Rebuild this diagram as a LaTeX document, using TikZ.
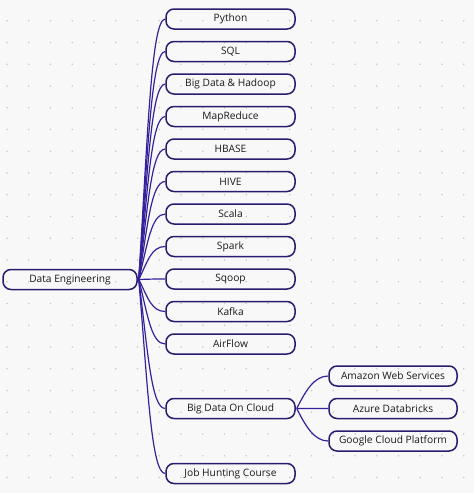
\documentclass[tikz,border=0pt]{standalone}
\usepackage{fontspec}
\setmainfont{Open Sans}
\usetikzlibrary{calc}
\definecolor{ink}{HTML}{2B1B6E}
\definecolor{linkc}{HTML}{33229A}
\definecolor{bg}{HTML}{F8F8F9}
\definecolor{dotc}{HTML}{C9C9CC}
\begin{document}
\begin{tikzpicture}[x=1pt,y=-1pt,
  topic/.style={draw=ink,line width=1.5pt,rounded corners=8pt,minimum width=129pt,minimum height=20pt,inner sep=0pt,font=\fontsize{10.2}{11}\selectfont,text=black!90},
  link/.style={draw=linkc,line width=1.2pt}]
\useasboundingbox (0,0) rectangle (474,493);
\fill[bg] (0,0) rectangle (474,493);
\foreach \i in {0,...,21}{
  \foreach \j in {0,...,22}{
    \fill[dotc] (7+21.75*\i,-1+21.75*\j) circle (0.9pt);
  }
}
\node[topic,minimum width=134pt] (root) at (70,279.5) {Data Engineering};
\node[topic] (n1) at (230.5,19) {Python};
\node[topic] (n2) at (230.5,51.5) {SQL};
\node[topic] (n3) at (230.5,84) {Big Data \& Hadoop};
\node[topic] (n4) at (230.5,116.5) {MapReduce};
\node[topic] (n5) at (230.5,149) {HBASE};
\node[topic] (n6) at (230.5,181.5) {HIVE};
\node[topic] (n7) at (230.5,214) {Scala};
\node[topic] (n8) at (230.5,246.5) {Spark};
\node[topic] (n9) at (230.5,279) {Sqoop};
\node[topic] (n10) at (230.5,311.5) {Kafka};
\node[topic] (n11) at (230.5,344) {AirFlow};
\node[topic] (n12) at (230.5,408.5) {Big Data On Cloud};
\node[topic] (n13) at (230.5,473.5) {Job Hunting Course};
\node[topic,minimum width=128pt] (c1) at (393,376) {Amazon Web Services};
\node[topic,minimum width=128pt] (c2) at (393,408.5) {Azure Databricks};
\node[topic,minimum width=128pt] (c3) at (393,441) {Google Cloud Platform};
\coordinate (rs) at ([xshift=1pt]root.east);
\foreach \n in {n1,n2,n3,n4,n5,n6,n7,n8,n9,n10,n11,n12,n13}{
  \path (\n.west) coordinate (t);
  \draw[link] (rs) .. controls ($(rs)!0.55!(rs |- t)+(9,0)$) and ([xshift=-14pt]t) .. (t);
}
\coordinate (cs) at ([xshift=1pt]n12.east);
\foreach \n in {c1,c2,c3}{
  \path (\n.west) coordinate (t);
  \draw[link] (cs) .. controls ($(cs)!0.55!(cs |- t)+(9,0)$) and ([xshift=-14pt]t) .. (t);
}
\end{tikzpicture}
\end{document}
